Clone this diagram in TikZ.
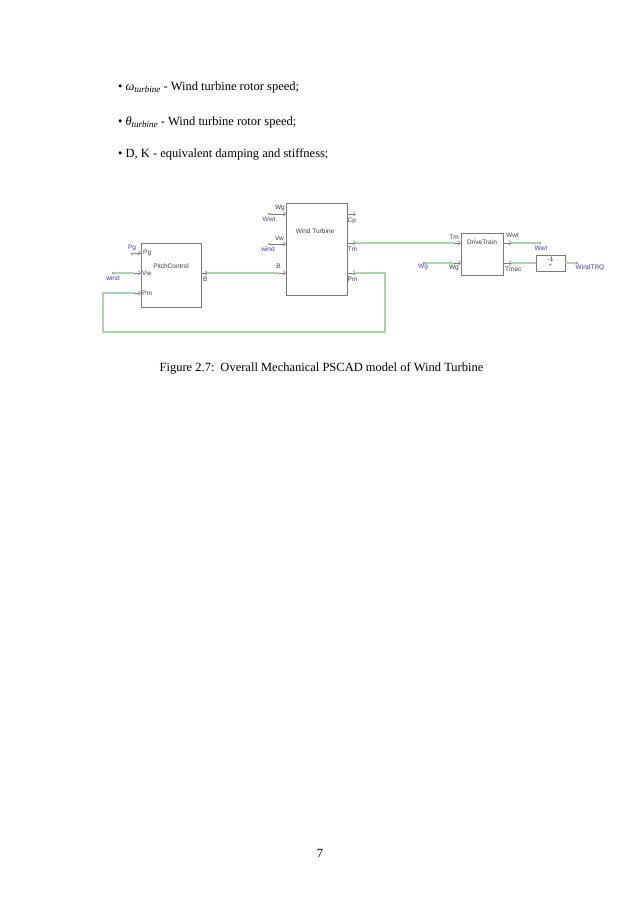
\documentclass[tikz,border=0pt]{standalone}
\usepackage{fontspec}
\setmainfont{Liberation Serif}
\newfontfamily\diag{Liberation Sans}
\usetikzlibrary{arrows.meta}
\definecolor{boxgray}{HTML}{7A7A7A}
\definecolor{wirec}{HTML}{A8D8A8}
\definecolor{sigc}{HTML}{3A3AC8}
\definecolor{lblc}{HTML}{3C3C3C}
\tikzset{
  blk/.style={draw=boxgray, line width=0.7pt, inner sep=0, fill=white},
  port/.style={draw=boxgray, line width=0.5pt, -{Straight Barb[length=2.5pt,width=4.5pt]}},
  wirel/.style={draw=wirec, line width=1.2pt},
  feed/.style={draw=boxgray, line width=0.5pt},
  lab/.style={font=\diag\fontsize{6.5}{7.5}\selectfont, text=lblc, inner sep=0},
  siglab/.style={lab, text=sigc},
  sigdot/.style={circle, draw=boxgray, line width=0.4pt, inner sep=0, minimum size=2.4pt},
  body/.style={font=\fontsize{12.5}{15}\selectfont, inner sep=0, text=black},
}
\begin{document}
\begin{tikzpicture}[x=1pt,y=-1pt]
\useasboundingbox (0,0) rectangle (638,902);
% bullets
\node[body, anchor=base west] (b1) at (118,90) {\textbullet\hspace{3pt}{\itshape ω}\raisebox{-2pt}{\fontsize{9}{10}\selectfont\itshape turbine} - Wind turbine rotor speed;};
\node[body, anchor=base west] (b2) at (118,125) {\textbullet\hspace{3pt}{\itshape θ}\raisebox{-2pt}{\fontsize{9}{10}\selectfont\itshape turbine} - Wind turbine rotor speed;};
\node[body, anchor=base west] (b3) at (118,157) {\textbullet\hspace{3pt}D, K - equivalent damping and stiffness;};
% caption and page number
\node[body, anchor=base] (cap) at (321.5,371) {Figure 2.7:\hspace{6pt}Overall Mechanical PSCAD model of Wind Turbine};
\node[body, anchor=base] (pg) at (320,857) {7};

% blocks
\node[blk, minimum width=60pt, minimum height=64pt] (pc) at (171,275) {};
\node[blk, minimum width=61pt, minimum height=92pt] (wt) at (316.5,249) {};
\node[blk, minimum width=42pt, minimum height=42pt] (dt) at (482,254) {};
\node[blk, minimum width=29pt, minimum height=16pt] (gn) at (550.5,263) {};
\node[lab] (pct) at (171,266) {PitchControl};
\node[lab] (wtt) at (315,231) {Wind Turbine};
\node[lab] (dtt) at (482,242) {DriveTrain};
\node[lab] (g1) at (550.5,259) {-1};
\node[lab] (g2) at (550.5,266) {*};

% port coordinates
\coordinate (pcPg) at (141,253); \coordinate (pcPgs) at (134,253);
\coordinate (pcVw) at (141,273); \coordinate (pcVws) at (134,273);
\coordinate (pcPm) at (141,293); \coordinate (pcPms) at (134,293);
\coordinate (pcB) at (201,273);  \coordinate (pcBe) at (208,273);
\coordinate (wtWg) at (286,214); \coordinate (wtWgs) at (279,214);
\coordinate (wtVw) at (286,244); \coordinate (wtVws) at (279,244);
\coordinate (wtB) at (286,273);  \coordinate (wtBs) at (279,273);
\coordinate (wtCp) at (347,214); \coordinate (wtCpe) at (356,214);
\coordinate (wtTm) at (347,243); \coordinate (wtTme) at (356,243);
\coordinate (wtPm) at (347,273); \coordinate (wtPme) at (356,273);
\coordinate (dtTm) at (461,243); \coordinate (dtTms) at (454,243);
\coordinate (dtWg) at (461,263); \coordinate (dtWgs) at (454,263);
\coordinate (dtWwt) at (503,243); \coordinate (dtWwte) at (512,243);
\coordinate (dtTmec) at (503,263); \coordinate (dtTmece) at (512,263);
\coordinate (fbR) at (385,332); \coordinate (fbL) at (103,332);

% wires
\draw[wirel] (pcBe) -- (wtBs);
\draw[wirel] (wtTme) -- (dtTms);
\draw[wirel] (wtPme) -| (fbR) -- (fbL) |- (pcPms);
\draw[wirel] (dtTmece) -- (gn.west);

% signal sources
\node[sigdot] (sPg) at (132,254) {};
\node[siglab] (lPg) at (132,248) {Pg};
\draw[feed] (sPg) -- (pcPgs);
\node[sigdot] (sWind1) at (113,273) {};
\node[siglab] (lWind1) at (113,278) {wind};
\draw[wirel] (sWind1) -- (pcVws);
\node[sigdot] (sWwt1) at (269,214) {};
\node[siglab] (lWwt1) at (269,219) {Wwt};
\draw[feed] (sWwt1) -- (wtWgs);
\node[sigdot] (sWind2) at (269,244) {};
\node[siglab] (lWind2) at (268,249) {wind};
\draw[feed] (sWind2) -- (wtVws);
\node[sigdot] (sWg) at (424,263) {};
\node[siglab] (lWg) at (423,267) {Wg};
\draw[wirel] (sWg) -- (dtWgs);
\node[sigdot] (sWwt2) at (540,243) {};
\node[siglab] (lWwt2) at (541,248.5) {Wwt};
\draw[wirel] (dtWwte) -- (sWwt2);
\node[sigdot] (sTRQ) at (577,263) {};
\node[siglab] (lTRQ) at (590,267.5) {WindTRQ};
\draw[wirel] (gn.east) -- (sTRQ);

% port arrows
\draw[port] (pcPgs) -- (pcPg);
\draw[port] (pcVws) -- (pcVw);
\draw[port] (pcPms) -- (pcPm);
\draw[port] (pcB) -- (pcBe);
\draw[port] (wtWgs) -- (wtWg);
\draw[port] (wtVws) -- (wtVw);
\draw[port] (wtBs) -- (wtB);
\draw[port] (wtCp) -- (wtCpe);
\draw[port] (wtTm) -- (wtTme);
\draw[port] (wtPm) -- (wtPme);
\draw[port] (dtTms) -- (dtTm);
\draw[port] (dtWgs) -- (dtWg);
\draw[port] (dtWwt) -- (dtWwte);
\draw[port] (dtTmec) -- (dtTmece);

% port labels
\node[lab, anchor=west] (pPg) at (143,253) {Pg};
\node[lab, anchor=west] (pVw) at (142,273) {Vw};
\node[lab, anchor=west] (pPm) at (142,293) {Pm};
\node[lab, anchor=west] (pB) at (203,279) {B};
\node[lab, anchor=east] (wWg) at (285,208) {Wg};
\node[lab, anchor=east] (wVw) at (284,238) {Vw};
\node[lab, anchor=east] (wB) at (281,266) {B};
\node[lab, anchor=west] (wCp) at (347.5,221) {Cp};
\node[lab, anchor=west] (wTm) at (347.5,249) {Tm};
\node[lab, anchor=west] (wPm) at (347.5,279) {Pm};
\node[lab, anchor=east] (dTm) at (459,237.5) {Tm};
\node[lab, anchor=east] (dWg) at (459,268) {Wg};
\node[lab, anchor=west] (dWwt) at (506,235) {Wwt};
\node[lab, anchor=west] (dTmec) at (505,269.5) {Tmec};
\end{tikzpicture}
\end{document}
